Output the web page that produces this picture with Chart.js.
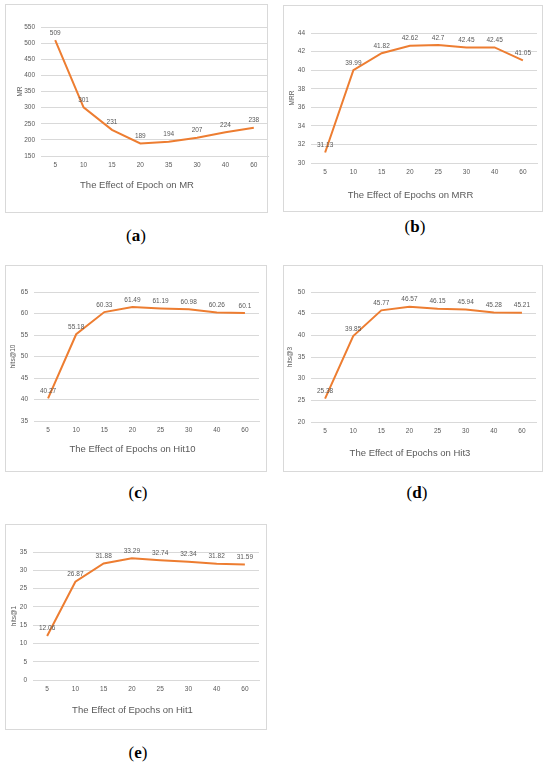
<!DOCTYPE html>
<html>
<head>
<meta charset="utf-8">
<script src="https://cdn.jsdelivr.net/npm/chart.js@4.4.0/dist/chart.umd.min.js"></script>
<style>
  body { margin: 0; background: #fff; width: 550px; height: 769px; position: relative; overflow: hidden; }
  .panel { position: absolute; border: 1px solid #d9d9d9; box-sizing: border-box; background: #fff; }
  .panel canvas { position: absolute; left: 0; top: 0; }
  .cap { position: absolute; width: 60px; margin-left: -30px; text-align: center;
         font-family: "Liberation Serif", "DejaVu Serif", serif; font-size: 17px; color: #000; line-height: 18px; }
  .cap b { font-weight: bold; }
</style>
</head>
<body>

<div class="panel" id="pa" style="left:5px;top:4px;width:263px;height:209px"><canvas id="ca"></canvas></div>
<div class="panel" id="pb" style="left:283px;top:5px;width:260px;height:207px"><canvas id="cb"></canvas></div>
<div class="panel" id="pc" style="left:5px;top:265px;width:262px;height:207px"><canvas id="cc"></canvas></div>
<div class="panel" id="pd" style="left:283px;top:265px;width:260px;height:207px"><canvas id="cd"></canvas></div>
<div class="panel" id="pe" style="left:5px;top:524px;width:262px;height:206px"><canvas id="ce"></canvas></div>

<div class="cap" style="left:136px;top:227px">(<b>a</b>)</div>
<div class="cap" style="left:415px;top:218px">(<b>b</b>)</div>
<div class="cap" style="left:138px;top:484px">(<b>c</b>)</div>
<div class="cap" style="left:417px;top:484px">(<b>d</b>)</div>
<div class="cap" style="left:138px;top:744px">(<b>e</b>)</div>

<script>
// data
var epochsMR = ['5', '10', '15', '20', '35', '30', '40', '60'];
var epochs = ['5', '10', '15', '20', '25', '30', '40', '60'];

var mrValues = [509, 301, 231, 189, 194, 207, 224, 238];
var mrrValues = [31.13, 39.99, 41.82, 42.62, 42.7, 42.45, 42.45, 41.05];
var hit10Values = [40.27, 55.18, 60.33, 61.49, 61.19, 60.98, 60.26, 60.1];
var hit3Values = [25.38, 39.85, 45.77, 46.57, 46.15, 45.94, 45.28, 45.21];
var hit1Values = [12.06, 26.87, 31.88, 33.29, 32.74, 32.34, 31.82, 31.59];

var mrTicks = [150, 550, 50];
var mrrTicks = [30, 44, 2];
var hit10Ticks = [35, 65, 5];
var hit3Ticks = [20, 50, 5];
var hit1Ticks = [0, 35, 5];

var orange = '#ED7D31';
var grey = '#595959';
var gridGrey = '#d9d9d9';
var font = '"Liberation Sans", Arial, sans-serif';

// labels over each point, like excel data labels
var valueLabels = {
  id: 'valueLabels',
  afterDatasetsDraw: function(chart) {
    var ctx = chart.ctx;
    var meta = chart.getDatasetMeta(0);
    var vals = chart.data.datasets[0].data;
    ctx.save();
    ctx.fillStyle = grey;
    ctx.font = '6.5px ' + font;
    ctx.textAlign = 'center';
    ctx.textBaseline = 'bottom';
    meta.data.forEach(function(pt, i) {
      ctx.fillText(String(vals[i]), pt.x, pt.y - 4);
    });
    ctx.restore();
  }
};

function makeChart(id, cats, vals, ticks, yTitle, xTitle, g) {
  var cv = document.getElementById(id);
  var box = cv.parentNode;
  var w = box.offsetWidth, h = box.offsetHeight;
  cv.style.width = w + 'px';
  cv.style.height = h + 'px';
  cv.width = w;
  cv.height = h;

  return new Chart(cv, {
    type: 'line',
    data: {
      labels: cats,
      datasets: [{
        data: vals,
        borderColor: orange,
        backgroundColor: orange,
        borderWidth: 2,
        pointRadius: 0,
        tension: 0,
        fill: false
      }]
    },
    plugins: [valueLabels],
    options: {
      responsive: false,
      animation: false,
      layout: { padding: { top: g.top, right: g.right, left: 0, bottom: h - (g.titleY + 6) } },
      plugins: {
        legend: { display: false },
        tooltip: { enabled: false },
        title: {
          display: true,
          position: 'bottom',
          text: xTitle,
          color: grey,
          font: { family: font, size: 9.5, weight: 'normal', lineHeight: 1.26 },
          padding: 0
        }
      },
      scales: {
        x: {
          offset: true,
          grid: { display: false, drawTicks: false },
          border: { display: true, color: gridGrey },
          ticks: { color: grey, font: { family: font, size: 6.5 }, padding: 5, maxRotation: 0 },
          afterFit: function(s) { s.height = (g.titleY - 6) - g.bottom; }
        },
        y: {
          min: ticks[0],
          max: ticks[1],
          grid: { color: gridGrey, drawTicks: false, lineWidth: 1 },
          border: { display: false },
          ticks: { stepSize: ticks[2], color: grey, font: { family: font, size: 6.5 }, padding: 6 },
          title: { display: true, text: yTitle, color: grey, font: { family: font, size: 6.5 }, padding: { top: g.yt, bottom: 0 } },
          afterFit: function(s) { s.width = g.left; }
        }
      }
    }
  });
}

makeChart('ca', epochsMR, mrValues, mrTicks, 'MR', 'The Effect of Epoch on MR',
  { left: 35, right: 1, top: 22, bottom: 151, titleY: 180, yt: 10 });
makeChart('cb', epochs, mrrValues, mrrTicks, 'MRR', 'The Effect of Epochs on MRR',
  { left: 27, right: 7, top: 27, bottom: 157, titleY: 189, yt: 4 });
makeChart('cc', epochs, hit10Values, hit10Ticks, 'hits@10', 'The Effect of Epochs on Hit10',
  { left: 28, right: 9, top: 26, bottom: 155, titleY: 183, yt: 3 });
makeChart('cd', epochs, hit3Values, hit3Ticks, 'hits@3', 'The Effect of Epochs on Hit3',
  { left: 27, right: 8, top: 26, bottom: 156, titleY: 187, yt: 2 });
makeChart('ce', epochs, hit1Values, hit1Ticks, 'hits@1', 'The Effect of Epochs on Hit1',
  { left: 27, right: 9, top: 27, bottom: 155, titleY: 185, yt: 4 });
</script>
</body>
</html>
